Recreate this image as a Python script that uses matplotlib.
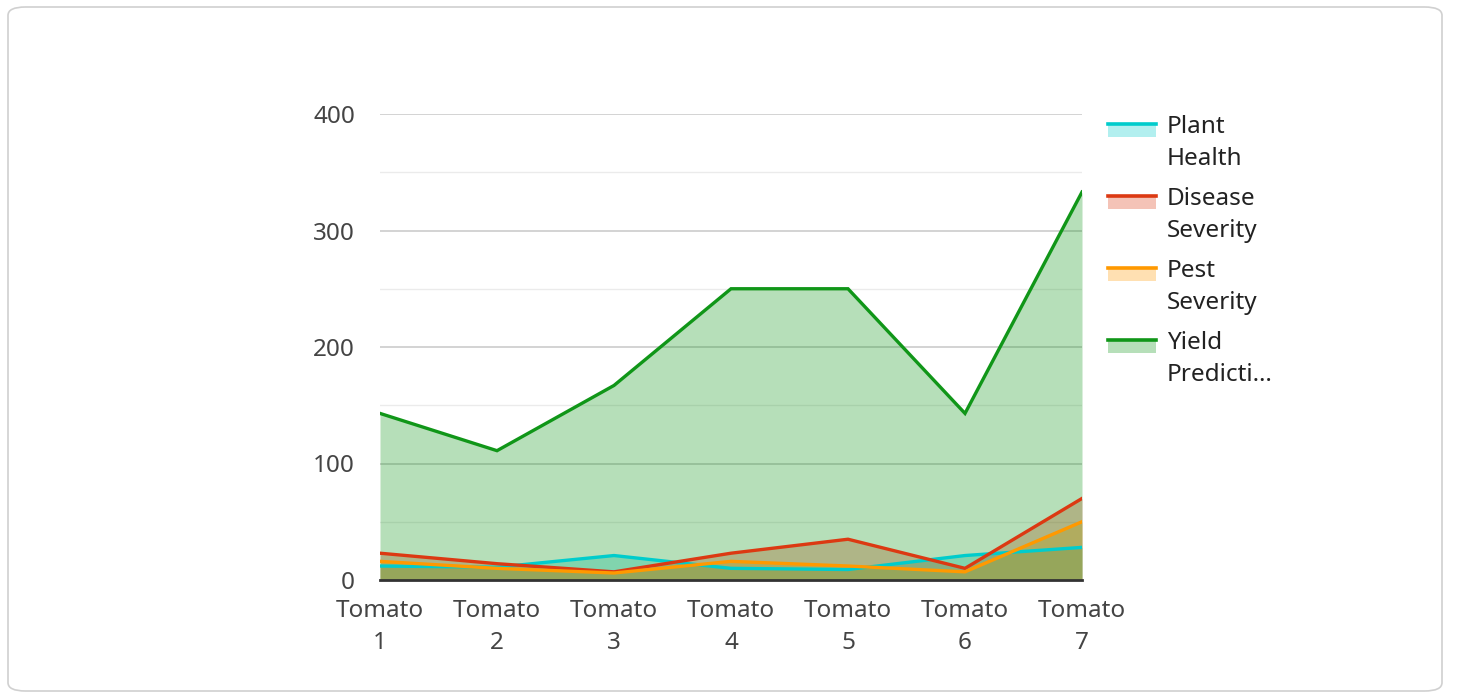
import numpy as np
import matplotlib.pyplot as plt
import matplotlib as mpl
from matplotlib.patches import FancyBboxPatch, Rectangle
from matplotlib.lines import Line2D

mpl.rcParams['font.family'] = ['Noto Sans', 'DejaVu Sans']

categories = ['Tomato\n1', 'Tomato\n2', 'Tomato\n3', 'Tomato\n4', 'Tomato\n5', 'Tomato\n6', 'Tomato\n7']
plant_health = [12, 11, 21, 10, 9, 21, 28]
disease_severity = [23, 14, 7, 23, 35, 10, 70]
pest_severity = [16, 10, 6, 16, 12, 7, 50]
yield_prediction = [143, 111, 167, 250, 250, 143, 333]

series = [plant_health, disease_severity, pest_severity, yield_prediction]
legend_labels = ['Plant\nHealth', 'Disease\nSeverity', 'Pest\nSeverity', 'Yield\nPredicti\u2026']
colors = ['#00cccc', '#dc3912', '#ff9900', '#109618']

W, H = 1458, 696
fig = plt.figure(figsize=(W / 100, H / 100), dpi=100)

# card border
card = FancyBboxPatch((8 / W, 5 / H), 1434 / W, 684 / H,
                      boxstyle='round,pad=0,rounding_size=0.012',
                      transform=fig.transFigure, facecolor='white',
                      edgecolor='#d0d0d0', linewidth=1.2, zorder=-5)
fig.patches.append(card)

ax = fig.add_axes([380 / W, 1 - 580 / H, 702 / W, 466 / H])
ax.set_facecolor('none')
x = np.arange(len(categories))

for yv in [50, 150, 250, 350]:
    ax.axhline(yv, color='#ebebeb', lw=1, zorder=0)
for yv in [100, 200, 300, 400]:
    ax.axhline(yv, color='#cccccc', lw=1.2, zorder=0)

for vals, c in zip(series, colors):
    ax.fill_between(x, 0, vals, color=c, alpha=0.3, lw=0, zorder=1)
for vals, c in zip(series, colors):
    ax.plot(x, vals, color=c, lw=2.4, zorder=3, solid_joinstyle='miter')

ax.axhline(0, color='#333333', lw=2, zorder=4, clip_on=False)

ax.set_xlim(0, 6)
ax.set_ylim(0, 400)
ax.set_yticks([0, 100, 200, 300, 400])
ax.set_xticks(x)
ax.set_xticklabels(categories, linespacing=1.4)
ax.tick_params(axis='both', length=0, labelsize=17.5, colors='#444444')
ax.tick_params(axis='y', pad=18)
ax.tick_params(axis='x', pad=14)
for s in ax.spines.values():
    s.set_visible(False)

# legend
for i, (lab, c) in enumerate(zip(legend_labels, colors)):
    ytop = 124 + i * 72
    fig.patches.append(Rectangle((1108 / W, 1 - (ytop + 13) / H), 48 / W, 13 / H,
                                 transform=fig.transFigure, facecolor=c,
                                 alpha=0.3, lw=0))
    fig.lines.append(Line2D([1108 / W, 1156 / W], [1 - ytop / H, 1 - ytop / H],
                            transform=fig.transFigure, color=c, lw=2.6))
    fig.text(1167 / W, 1 - (ytop - 9) / H, lab, fontsize=17.5, color='#222222',
             va='top', ha='left', linespacing=1.45)

fig.savefig('out.png', dpi=100)
